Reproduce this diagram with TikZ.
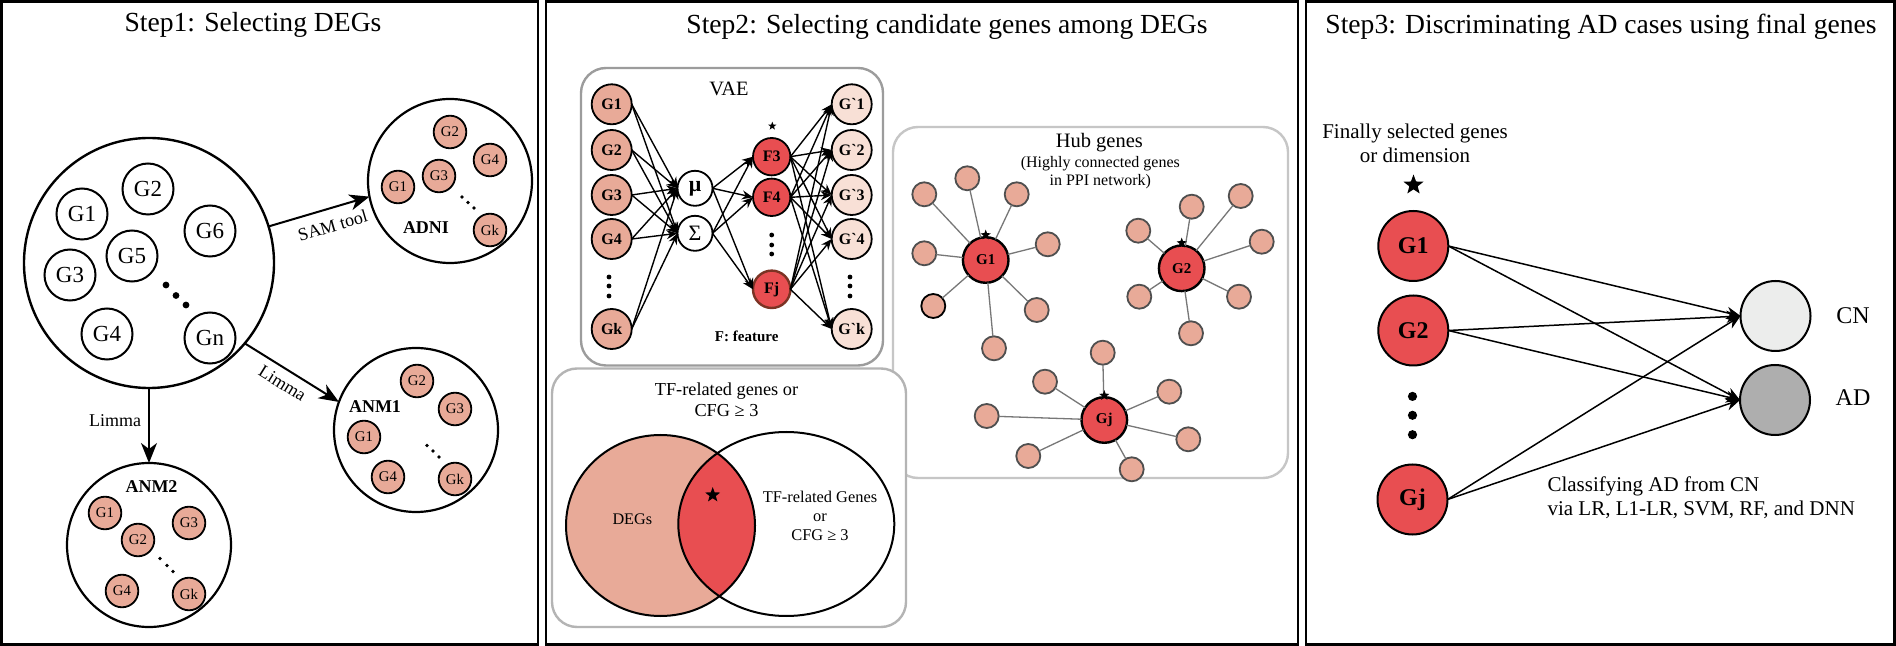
\documentclass[tikz,border=0pt]{standalone}
\usepackage{fontspec}
\setmainfont{Liberation Serif}
\usetikzlibrary{arrows.meta,shapes.geometric}
\definecolor{salmon}{HTML}{E8AA98}
\definecolor{hubred}{HTML}{E84E51}
\definecolor{pinkl}{HTML}{F8E0D6}
\definecolor{cnfill}{HTML}{ECEDEC}
\definecolor{adfill}{HTML}{AEAEAE}
\definecolor{fjborder}{HTML}{7B3324}
\definecolor{vaegray}{HTML}{9C9C9C}
\definecolor{tfgray}{HTML}{B4B4B4}
\definecolor{hubgray}{HTML}{C6C6C6}
\definecolor{edgegray}{HTML}{777777}
\definecolor{satborder}{HTML}{4F4F4F}
\begin{document}
\begin{tikzpicture}[x=0.5pt,y=-0.5pt,
  every node/.style={inner sep=0pt,outer sep=0pt},
  panel/.style={draw=black,line width=1.25pt},
  steptitle/.style={font=\fontsize{13.8}{16}\selectfont},
  bigset/.style={circle,draw,line width=1.2pt,minimum size=125pt},
  biggene/.style={circle,draw,line width=1pt,fill=white,minimum size=25.5pt,font=\fontsize{11.5}{13}\selectfont},
  setcirc/.style={circle,draw,line width=1.1pt,minimum size=82pt},
  smallgene/.style={circle,draw,line width=0.9pt,fill=salmon,minimum size=16.3pt,font=\fontsize{7.4}{9}\selectfont},
  setlabel/.style={font=\bfseries\fontsize{9}{11}\selectfont},
  steparrow/.style={line width=1pt,-{Stealth[length=10pt,width=8pt,inset=3pt]}},
  edgelabel/.style={font=\fontsize{9}{11}\selectfont},
  bigdot/.style={circle,fill=black,minimum size=3.4pt},
  smalldot/.style={circle,fill=black,minimum size=1.9pt},
  vaein/.style={circle,draw,line width=0.9pt,fill=salmon,minimum size=20pt,font=\bfseries\fontsize{8}{9}\selectfont},
  vaeout/.style={vaein,fill=pinkl},
  vaelat/.style={circle,draw,line width=0.9pt,fill=white,minimum size=17.5pt,font=\fontsize{11}{13}\selectfont},
  vaef/.style={circle,draw,line width=0.9pt,fill=hubred,minimum size=18.7pt,font=\bfseries\fontsize{8}{9}\selectfont},
  vaearrow/.style={line width=0.7pt,-{Stealth[length=5.5pt,width=4.5pt]}},
  vaedot/.style={circle,fill=black,minimum size=2.4pt},
  roundbox/.style={line width=1.2pt,rounded corners=12.5pt,fill=white},
  hub/.style={circle,draw,line width=1.2pt,fill=hubred,minimum size=22.8pt,font=\bfseries\fontsize{7.5}{9}\selectfont},
  sat/.style={circle,draw=satborder,line width=0.9pt,fill=salmon,minimum size=12pt},
  hubedge/.style={draw=edgegray,line width=0.65pt},
  starmark/.style={star,star points=5,star point ratio=2.4,fill=black},
  fg/.style={circle,draw,line width=1pt,fill=hubred,minimum size=35pt,font=\bfseries\fontsize{12}{14}\selectfont},
  cls/.style={circle,draw,line width=1pt,minimum size=35pt},
  clsarrow/.style={line width=0.75pt,-{Stealth[length=7pt,width=6pt]}},
  fgdot/.style={circle,fill=black,minimum size=4.6pt}
]
\useasboundingbox (0,0) rectangle (1896,646);
\fill[white] (0,0) rectangle (1896,646);

% ---------- panels ----------
\draw[panel] (1.5,1.5) rectangle (538,644.5);
\draw[panel] (546,1.5) rectangle (1298,644.5);
\draw[panel] (1306,1.5) rectangle (1894.5,644.5);
\node[steptitle,anchor=base] (t1) at (253,32) {Step1: Selecting DEGs};
\node[steptitle,anchor=base] (t2) at (947,34) {Step2: Selecting candidate genes among DEGs};
\node[steptitle,anchor=base] (t3) at (1601,34) {Step3: Discriminating AD cases using final genes};

% ---------- Step 1 ----------
\node[bigset] (big) at (149,263) {};
\node[biggene] (b1) at (82,214) {G1};
\node[biggene] (b2) at (148,189) {G2};
\node[biggene] (b6) at (210,231) {G6};
\node[biggene] (b3) at (70,275) {G3};
\node[biggene] (b5) at (132,256) {G5};
\node[biggene] (b4) at (107,334) {G4};
\node[biggene] (bn) at (210,338) {Gn};
\node[bigdot] (bd1) at (166,285) {};
\node[bigdot] (bd2) at (176,295.5) {};
\node[bigdot] (bd3) at (186,305) {};

\node[setcirc] (adni) at (450,181) {};
\node[setlabel] (adnil) at (426,228) {ADNI};
\node[smallgene] (a2) at (450,132) {G2};
\node[smallgene] (a4) at (490,160) {G4};
\node[smallgene] (a3) at (439,176) {G3};
\node[smallgene] (a1) at (398,187) {G1};
\node[smallgene] (ak) at (490,230) {Gk};
\node[smalldot] (ad1) at (462,197) {};
\node[smalldot] (ad2) at (468,202.5) {};
\node[smalldot] (ad3) at (474,208) {};

\node[setcirc] (anm1) at (416,430) {};
\node[setlabel] (anm1l) at (375,406.5) {ANM1};
\node[smallgene] (m2) at (417,381) {G2};
\node[smallgene] (m3) at (455,409) {G3};
\node[smallgene] (m1) at (364,437) {G1};
\node[smallgene] (m4) at (388,477) {G4};
\node[smallgene] (mk) at (455,479) {Gk};
\node[smalldot] (md1) at (427,445.5) {};
\node[smalldot] (md2) at (433,451) {};
\node[smalldot] (md3) at (439,457) {};

\node[setcirc] (anm2) at (149,545) {};
\node[setlabel] (anm2l) at (151.5,486.5) {ANM2};
\node[smallgene] (n1) at (105,513) {G1};
\node[smallgene] (n2) at (138,540) {G2};
\node[smallgene] (n3) at (189,523) {G3};
\node[smallgene] (n4) at (122,591) {G4};
\node[smallgene] (nk) at (189,594) {Gk};
\node[smalldot] (nd1) at (160,558.5) {};
\node[smalldot] (nd2) at (167,565.5) {};
\node[smalldot] (nd3) at (173,571.5) {};

\draw[steparrow] (big.17) -- node[edgelabel,pos=0.587,sloped,below=5.5pt] (saml) {SAM tool} (adni.191);
\draw[steparrow] (big.-40.5) -- node[edgelabel,pos=0.48,sloped,below=4pt] (liml1) {Limma} (anm1.160);
\draw[steparrow] (big.south) -- node[edgelabel,pos=0.43,left=4pt] (liml2) {Limma} (anm2.north);

% ---------- Step 2 boxes ----------
\draw[hubgray,roundbox] (893,127) rectangle (1288,478);
\draw[tfgray,roundbox] (552,368.5) rectangle (906,627);
\draw[vaegray,roundbox] (581,68) rectangle (883,365.5);

% ---------- VAE ----------
\node[font=\fontsize{10.2}{12}\selectfont] (vael) at (729,89.3) {VAE};
\node[vaein] (vg1) at (611.7,104.3) {G1};
\node[vaein] (vg2) at (611.7,150) {G2};
\node[vaein] (vg3) at (611.7,195) {G3};
\node[vaein] (vg4) at (611.7,239) {G4};
\node[vaein] (vgk) at (611.7,329) {Gk};
\node[vaedot] (vgd1) at (609,277) {};
\node[vaedot] (vgd2) at (609,286) {};
\node[vaedot] (vgd3) at (609,296) {};
\node[vaelat,font=\bfseries\fontsize{11}{13}\selectfont] (mu) at (695,188.3) {μ};
\node[vaelat] (sig) at (695,233.3) {Σ};
\node[vaef] (f3) at (771.7,156.7) {F3};
\node[vaef] (f4) at (771.7,197.3) {F4};
\node[vaef,draw=fjborder,line width=1.2pt] (fj) at (771.7,289.3) {Fj};
\node[vaedot] (fd1) at (771.7,235) {};
\node[vaedot] (fd2) at (771.7,245) {};
\node[vaedot] (fd3) at (771.7,254) {};
\node[starmark,minimum size=4.4pt] (fstar) at (772.3,126) {};
\node[vaeout] (go1) at (851.7,104.3) {G\textasciigrave 1};
\node[vaeout] (go2) at (851.7,150) {G\textasciigrave 2};
\node[vaeout] (go3) at (851.7,195) {G\textasciigrave 3};
\node[vaeout] (go4) at (851.7,239) {G\textasciigrave 4};
\node[vaeout] (gok) at (851.7,329) {G\textasciigrave k};
\node[vaedot] (gd1) at (850,277) {};
\node[vaedot] (gd2) at (850,286) {};
\node[vaedot] (gd3) at (850,296) {};
\node[font=\bfseries\fontsize{7.5}{9}\selectfont] (featl) at (746.7,336.7) {F: feature};
\foreach \s in {vg1,vg2,vg3,vg4,vgk}
  \foreach \t in {mu,sig}
    \draw[vaearrow] (\s.east) -- (\t.west);
\foreach \s in {mu,sig}
  \foreach \t in {f3,f4,fj}
    \draw[vaearrow] (\s.east) -- (\t.west);
\foreach \s in {f3,f4,fj}
  \foreach \t in {go1,go2,go3,go4,gok}
    \draw[vaearrow] (\s.east) -- (\t.west);

% ---------- Hub genes ----------
\node[font=\fontsize{10.25}{12}\selectfont] (hubt) at (1099.3,142.3) {Hub genes};
\node[font=\fontsize{8}{9.2}\selectfont,align=center] (hubs) at (1100.3,172.5) {(Highly connected genes\\in PPI network)};
\node[hub] (h1) at (985.7,260) {G1};
\node[hub] (h2) at (1181.7,268.3) {G2};
\node[hub] (h3) at (1104.3,420) {Gj};
\foreach \x/\y [count=\i] in {924.3/194.3,967.3/178.3,1016.7/194.3,1047.7/244.3,924.3/253.3,1036.7/310,994/348.3}{
  \node[sat] (sa\i) at (\x,\y) {};
  \draw[hubedge] (sa\i) -- (h1);
}
\node[sat,draw=black] (sa8) at (933.3,306) {};
\draw[hubedge] (sa8) -- (h1);
\foreach \x/\y [count=\i] in {1138.3/230.7,1191.7/206.7,1240.7/196,1261.7/241.7,1239/296.7,1191/333.3,1139.3/296.7}{
  \node[sat] (sb\i) at (\x,\y) {};
  \draw[hubedge] (sb\i) -- (h2);
}
\foreach \x/\y [count=\i] in {1102.7/352.7,1045/381.7,1169.3/391.7,986.7/416,1188.3/439.3,1028.3/456,1131.7/469.3}{
  \node[sat] (sc\i) at (\x,\y) {};
  \draw[hubedge] (sc\i) -- (h3);
}
\node[starmark,minimum size=5.4pt] (hs1) at (985.7,235) {};
\node[starmark,minimum size=5.4pt] (hs2) at (1181.7,243) {};
\node[starmark,minimum size=5.4pt] (hs3) at (1104.3,395.5) {};

% ---------- TF / Venn ----------
\node[font=\fontsize{9.15}{10.35}\selectfont,align=center] (tft) at (726.5,399.7) {TF-related genes or\\CFG ≥ 3};
\fill[salmon] (660.5,525.5) ellipse [x radius=94.5,y radius=90.5];
\begin{scope}
  \clip (660.5,525.5) ellipse [x radius=94.5,y radius=90.5];
  \fill[hubred] (786.3,524) ellipse [x radius=108,y radius=92];
\end{scope}
\draw[line width=1pt] (660.5,525.5) ellipse [x radius=94.5,y radius=90.5];
\draw[line width=1pt] (786.3,524) ellipse [x radius=108,y radius=92];
\node[starmark,minimum size=7.9pt] (vstar) at (712.7,495) {};
\node[font=\fontsize{8.1}{9.5}\selectfont] (degl) at (632.3,519.3) {DEGs};
\node[font=\fontsize{8.2}{9.5}\selectfont,align=center] (tfl) at (820,516) {TF-related Genes\\or\\CFG ≥ 3};

% ---------- Step 3 ----------
\node[font=\fontsize{10.5}{12.35}\selectfont,align=center] (fin) at (1415,143.3) {Finally selected genes\\or dimension};
\node[starmark,minimum size=10.5pt] (fstar3) at (1413.5,185) {};
\node[fg] (s1) at (1413.3,246) {G1};
\node[fg] (s2) at (1413.3,330.5) {G2};
\node[fg] (sj) at (1412.5,499.5) {Gj};
\node[fgdot] (sd1) at (1412.5,396.4) {};
\node[fgdot] (sd2) at (1412.5,415.3) {};
\node[fgdot] (sd3) at (1412.5,434.7) {};
\node[cls,fill=cnfill] (cn) at (1775.5,316) {};
\node[cls,fill=adfill] (ad) at (1775,400) {};
\node[font=\fontsize{12}{14}\selectfont] (cnl) at (1853,316) {CN};
\node[font=\fontsize{12}{14}\selectfont] (adl) at (1853,398) {AD};
\node[font=\fontsize{10.5}{12.35}\selectfont,align=left,anchor=west] (clsl) at (1547.5,497.7) {Classifying AD from CN\\via LR, L1-LR, SVM, RF, and DNN};
\foreach \s in {s1,s2,sj}
  \foreach \t in {cn,ad}
    \draw[clsarrow] (\s.east) -- (\t.west);
\end{tikzpicture}
\end{document}
